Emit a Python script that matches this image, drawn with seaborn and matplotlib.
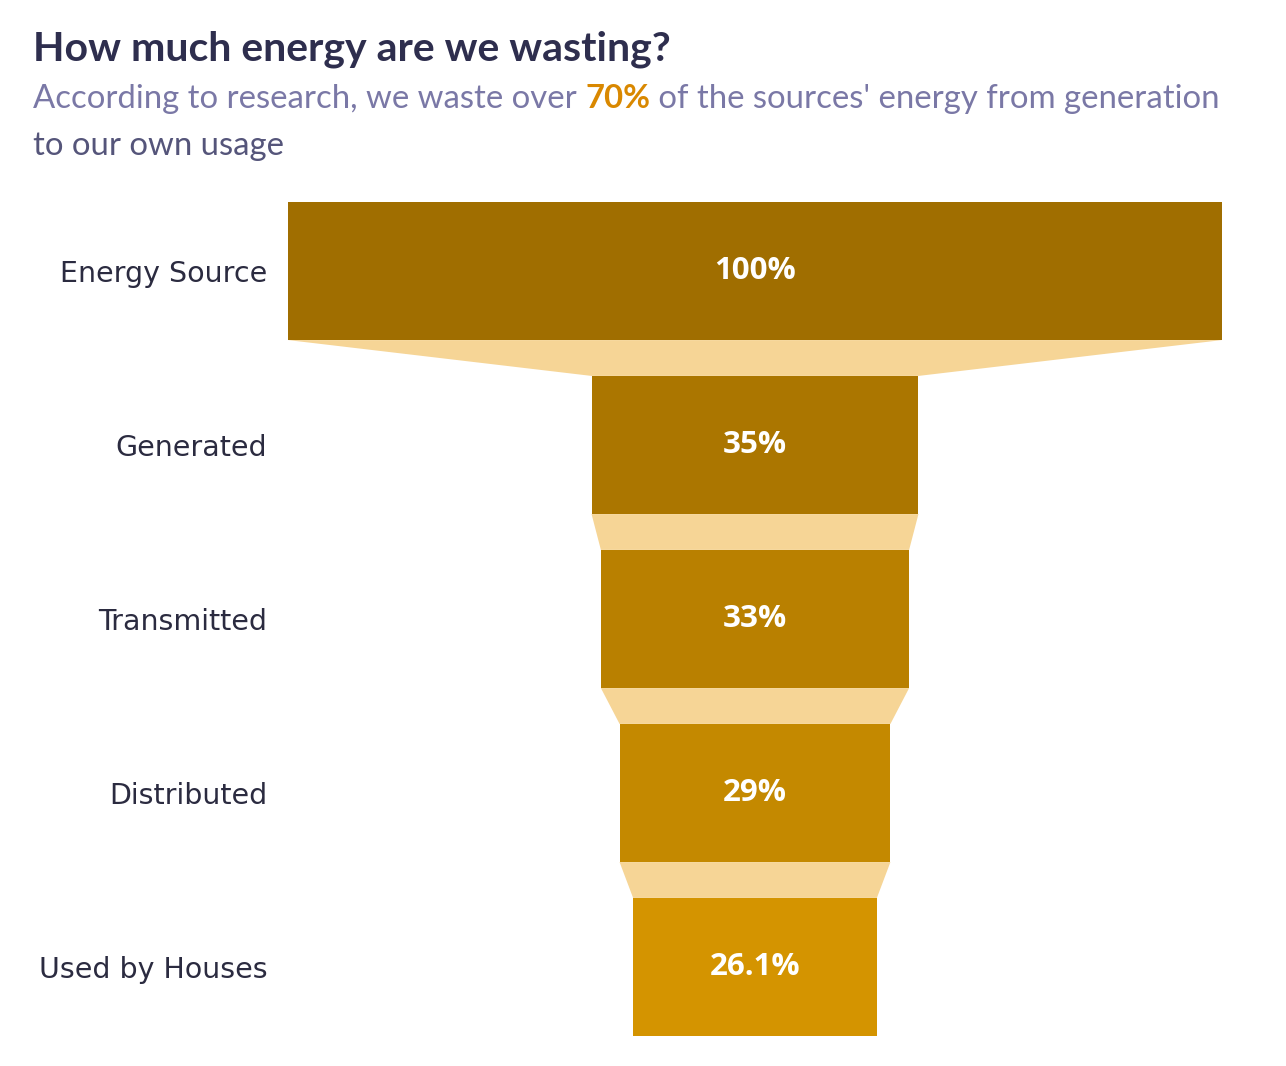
import matplotlib
matplotlib.use("Agg")
import matplotlib.pyplot as plt
import seaborn as sns

# data
stages = ["Energy Source", "Generated", "Transmitted", "Distributed", "Used by Houses"]
values = [100, 35, 33, 29, 26.1]
value_labels = ["100%", "35%", "33%", "29%", "26.1%"]
bar_colors = ["#A06E00", "#AB7600", "#B98000", "#C48900", "#D49400"]
link_color = "#F6D596"

sns.set_theme(style="white")
plt.rcParams['font.family'] = ['DejaVu Sans']

W, H = 1286, 1066
fig = plt.figure(figsize=(W / 100, H / 100), dpi=100)
fig.patch.set_facecolor("white")
ax = fig.add_axes([288 / W, 1 - 1054 / H, 934 / W, (1054 - 184) / H])

sns.barplot(x=values, y=stages, hue=stages, palette=bar_colors, orient="h",
            width=0.795, legend=False, ax=ax, saturation=1)

# center the bars to make a funnel
bars = sorted(ax.patches, key=lambda p: p.get_y())
for p, v in zip(bars, values):
    p.set_x((100 - v) / 2)
    p.set_width(v)
    p.set_edgecolor("none")

# connectors between stages
for i in range(len(values) - 1):
    l0, r0 = (100 - values[i]) / 2, (100 + values[i]) / 2
    l1, r1 = (100 - values[i + 1]) / 2, (100 + values[i + 1]) / 2
    ax.fill([l0, r0, r1, l1], [i + 0.397, i + 0.397, i + 0.603, i + 0.603],
            color=link_color, lw=0, zorder=0)

for i, lab in enumerate(value_labels):
    ax.text(50, i, lab, ha="center", va="center", color="white",
            fontsize=22.5, fontweight="bold", family=["Open Sans", "DejaVu Sans"])

ax.set_xlim(0, 100)
ax.set_ylim(4.5, -0.5)
ax.set_xticks([])
ax.set_xlabel("")
ax.set_ylabel("")
ax.tick_params(axis="y", length=0, pad=15, labelsize=20.5, labelcolor="#2B2B40")
for s in ax.spines.values():
    s.set_visible(False)

# title and subtitle
fig.text(33 / W, 1 - 61 / H, "How much energy are we wasting?", fontsize=29.5,
         fontweight="bold", color="#2E2E4E", family=["Lato", "DejaVu Sans"])

sub_font = dict(fontsize=23.7, family=["Lato", "DejaVu Sans"], fontweight="normal")
fig.canvas.draw()
r = fig.canvas.get_renderer()
y1 = 1 - 108 / H
t1 = fig.text(33 / W, y1, "According to research, we waste over ", color="#7A78A6", **sub_font)
x = t1.get_window_extent(r).x1 / W
t2 = fig.text(x, y1, "70%", color="#D98800", fontsize=23.7, fontweight="bold",
              family=["Lato", "DejaVu Sans"])
x = t2.get_window_extent(r).x1 / W
fig.text(x, y1, " of the sources' energy from generation", color="#7A78A6", **sub_font)
fig.text(33 / W, 1 - 155 / H, "to our own usage", color="#55557A", **sub_font)

fig.savefig("out.png", dpi=100, facecolor="white")
